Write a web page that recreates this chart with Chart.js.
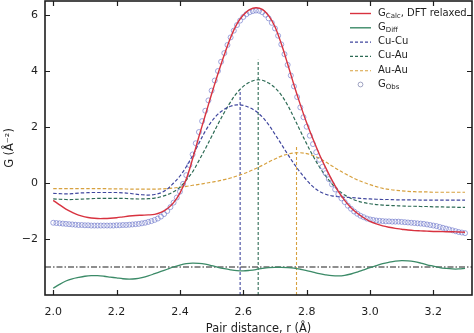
<!DOCTYPE html>
<html>
<head>
<meta charset="utf-8">
<script src="https://cdn.jsdelivr.net/npm/chart.js@4.4.1/dist/chart.umd.min.js"></script>
<style>
  html, body { margin: 0; padding: 0; background: #ffffff; }
  #wrap { width: 474px; height: 333px; }
</style>
</head>
<body>
<div id="wrap"><canvas id="pdf" width="474" height="333"></canvas></div>
<script>
// Pair distances of the fitted / partial curves (Å)
const rFit = [
  2.00, 2.02, 2.04, 2.06, 2.08, 2.10, 2.12, 2.14, 2.16, 2.18,
  2.20, 2.22, 2.24, 2.26, 2.28, 2.30, 2.32, 2.34, 2.36, 2.38,
  2.40, 2.42, 2.44, 2.46, 2.48, 2.50, 2.52, 2.54, 2.56, 2.58,
  2.60, 2.62, 2.64, 2.66, 2.68, 2.70, 2.72, 2.74, 2.76, 2.78,
  2.80, 2.82, 2.84, 2.86, 2.88, 2.90, 2.92, 2.94, 2.96, 2.98,
  3.00, 3.02, 3.04, 3.06, 3.08, 3.10, 3.12, 3.14, 3.16, 3.18,
  3.20, 3.22, 3.24, 3.26, 3.28, 3.30
];

// Calculated PDF from the DFT-relaxed model
const gCalc = [
  -0.62, -0.78, -0.93, -1.05, -1.15, -1.21, -1.25, -1.27, -1.27, -1.26,
  -1.24, -1.21, -1.18, -1.16, -1.15, -1.14, -1.12, -1.05, -0.92, -0.70,
  -0.36, 0.14, 0.86, 1.66, 2.42, 3.18, 3.90, 4.58, 5.20, 5.68,
  6.00, 6.19, 6.26, 6.20, 5.98, 5.58, 4.97, 4.25, 3.50, 2.80,
  2.15, 1.57, 1.03, 0.55, 0.10, -0.30, -0.62, -0.88, -1.08, -1.24,
  -1.37, -1.46, -1.53, -1.58, -1.62, -1.65, -1.68, -1.70, -1.71, -1.72,
  -1.73, -1.73, -1.74, -1.74, -1.75, -1.76
];

// Difference curve (already shifted down by diffOffset)
const gDiff = [
  -3.76, -3.62, -3.50, -3.42, -3.37, -3.33, -3.31, -3.31, -3.33, -3.36,
  -3.39, -3.42, -3.43, -3.42, -3.38, -3.32, -3.24, -3.16, -3.08, -3.00,
  -2.93, -2.88, -2.86, -2.87, -2.90, -2.95, -3.01, -3.06, -3.10, -3.13,
  -3.14, -3.12, -3.09, -3.05, -3.02, -3.01, -3.01, -3.02, -3.04, -3.08,
  -3.13, -3.18, -3.24, -3.28, -3.31, -3.32, -3.30, -3.25, -3.18, -3.10,
  -3.02, -2.95, -2.88, -2.83, -2.79, -2.77, -2.78, -2.81, -2.86, -2.92,
  -2.97, -3.02, -3.05, -3.07, -3.07, -3.05
];

// Partial pair contributions
const cuCu = [
  -0.37, -0.38, -0.39, -0.38, -0.36, -0.35, -0.34, -0.34, -0.34, -0.34,
  -0.34, -0.35, -0.37, -0.40, -0.42, -0.43, -0.41, -0.35, -0.22, 0.00,
  0.25, 0.58, 0.98, 1.42, 1.85, 2.20, 2.46, 2.63, 2.74, 2.79,
  2.77, 2.69, 2.56, 2.36, 2.08, 1.74, 1.39, 1.03, 0.69, 0.38,
  0.10, -0.13, -0.30, -0.40, -0.46, -0.49, -0.51, -0.52, -0.54, -0.56,
  -0.57, -0.58, -0.59, -0.59, -0.60, -0.60, -0.60, -0.60, -0.61, -0.61,
  -0.61, -0.61, -0.61, -0.61, -0.61, -0.61
];
const cuAu = [
  -0.57, -0.58, -0.59, -0.59, -0.58, -0.57, -0.56, -0.55, -0.55, -0.55,
  -0.55, -0.55, -0.56, -0.57, -0.57, -0.56, -0.54, -0.49, -0.42, -0.31,
  -0.15, 0.10, 0.40, 0.80, 1.22, 1.66, 2.10, 2.52, 2.90, 3.22,
  3.45, 3.60, 3.68, 3.67, 3.57, 3.40, 3.14, 2.78, 2.33, 1.86,
  1.40, 0.97, 0.58, 0.25, -0.03, -0.26, -0.43, -0.55, -0.64, -0.70,
  -0.74, -0.77, -0.79, -0.80, -0.81, -0.82, -0.83, -0.83, -0.84, -0.84,
  -0.85, -0.85, -0.86, -0.86, -0.87, -0.87
];
const auAu = [
  -0.20, -0.20, -0.20, -0.20, -0.20, -0.20, -0.20, -0.20, -0.20, -0.21,
  -0.21, -0.21, -0.22, -0.22, -0.22, -0.22, -0.22, -0.21, -0.20, -0.18,
  -0.15, -0.12, -0.08, -0.05, -0.01, 0.03, 0.07, 0.12, 0.18, 0.25,
  0.33, 0.42, 0.52, 0.63, 0.75, 0.86, 0.96, 1.03, 1.07, 1.08,
  1.05, 0.98, 0.88, 0.75, 0.61, 0.47, 0.34, 0.22, 0.11, 0.02,
  -0.06, -0.13, -0.19, -0.23, -0.26, -0.28, -0.30, -0.31, -0.32, -0.32,
  -0.33, -0.33, -0.33, -0.33, -0.33, -0.33
];

// Measured PDF
const rObs = [
  2.00, 2.01, 2.02, 2.03, 2.04, 2.05, 2.06, 2.07, 2.08, 2.09,
  2.10, 2.11, 2.12, 2.13, 2.14, 2.15, 2.16, 2.17, 2.18, 2.19,
  2.20, 2.21, 2.22, 2.23, 2.24, 2.25, 2.26, 2.27, 2.28, 2.29,
  2.30, 2.31, 2.32, 2.33, 2.34, 2.35, 2.36, 2.37, 2.38, 2.39,
  2.40, 2.41, 2.42, 2.43, 2.44, 2.45, 2.46, 2.47, 2.48, 2.49,
  2.50, 2.51, 2.52, 2.53, 2.54, 2.55, 2.56, 2.57, 2.58, 2.59,
  2.60, 2.61, 2.62, 2.63, 2.64, 2.65, 2.66, 2.67, 2.68, 2.69,
  2.70, 2.71, 2.72, 2.73, 2.74, 2.75, 2.76, 2.77, 2.78, 2.79,
  2.80, 2.81, 2.82, 2.83, 2.84, 2.85, 2.86, 2.87, 2.88, 2.89,
  2.90, 2.91, 2.92, 2.93, 2.94, 2.95, 2.96, 2.97, 2.98, 2.99,
  3.00, 3.01, 3.02, 3.03, 3.04, 3.05, 3.06, 3.07, 3.08, 3.09,
  3.10, 3.11, 3.12, 3.13, 3.14, 3.15, 3.16, 3.17, 3.18, 3.19,
  3.20, 3.21, 3.22, 3.23, 3.24, 3.25, 3.26, 3.27, 3.28, 3.29,
  3.30
];
const gObs = [
  -1.42, -1.43, -1.44, -1.45, -1.46, -1.47, -1.48, -1.49, -1.50, -1.50,
  -1.51, -1.51, -1.52, -1.52, -1.52, -1.52, -1.52, -1.52, -1.52, -1.52,
  -1.51, -1.51, -1.50, -1.50, -1.49, -1.48, -1.47, -1.46, -1.44, -1.42,
  -1.39, -1.36, -1.32, -1.27, -1.20, -1.11, -1.00, -0.86, -0.70, -0.52,
  -0.31, -0.03, 0.28, 0.64, 1.02, 1.42, 1.82, 2.21, 2.58, 2.95,
  3.30, 3.66, 4.00, 4.33, 4.64, 4.93, 5.20, 5.44, 5.64, 5.80,
  5.93, 6.03, 6.10, 6.14, 6.16, 6.15, 6.10, 6.01, 5.88, 5.72,
  5.52, 5.26, 4.95, 4.60, 4.22, 3.84, 3.45, 3.07, 2.70, 2.35,
  2.01, 1.69, 1.39, 1.10, 0.83, 0.58, 0.35, 0.14, -0.05, -0.23,
  -0.40, -0.55, -0.68, -0.81, -0.92, -1.02, -1.10, -1.17, -1.22, -1.27,
  -1.30, -1.32, -1.34, -1.35, -1.36, -1.37, -1.37, -1.38, -1.38, -1.38,
  -1.39, -1.40, -1.41, -1.42, -1.43, -1.44, -1.45, -1.46, -1.48, -1.50,
  -1.52, -1.54, -1.57, -1.60, -1.63, -1.66, -1.69, -1.72, -1.75, -1.77,
  -1.79
];

// Mean bond distances (Cu-Cu, Cu-Au, Au-Au) and heights of their drop lines
const bondR = [2.59, 2.647, 2.768];
const bondTop = [3.3, 4.4, 1.3];

const diffOffset = -3;
const xRange = [1.974, 3.322];
const yRange = [-4.0, 6.5];
const xTicks = [2.0, 2.2, 2.4, 2.6, 2.8, 3.0, 3.2];
const yTicks = [-2, 0, 2, 4, 6];

const COL = {
  calc: '#d8323f',
  diff: '#3b8a67',
  cuCu: '#40479e',
  cuAu: '#2d6b55',
  auAu: '#d7a13f',
  obs: 'rgba(112,122,204,0.78)',
  ink: '#1e1e1e'
};
const FONT = 'DejaVu Sans';

const pts = (xs, ys) => xs.map((x, i) => ({ x: x, y: ys[i] }));

function lineSet(label, data, color, dash, width) {
  return {
    label: label, data: data, showLine: true, borderColor: color,
    backgroundColor: color, borderWidth: width || 1.3, borderDash: dash || [],
    pointRadius: 0, tension: 0.35, fill: false
  };
}

const dropColors = [COL.cuCu, COL.cuAu, COL.auAu];
const dropSets = bondR.map((r, i) => Object.assign(
  lineSet('drop' + i, [{ x: r, y: yRange[0] }, { x: r, y: bondTop[i] }], dropColors[i], [3, 2], 1.1),
  { tension: 0 }
));

const datasets = [
  lineSet('GCalc', pts(rFit, gCalc), COL.calc, [], 1.4),
  {
    label: 'GObs', data: pts(rObs, gObs), showLine: false,
    pointStyle: 'circle', pointRadius: 2.5, pointBorderWidth: 0.85,
    pointBorderColor: COL.obs, pointBackgroundColor: 'rgba(255,255,255,0)'
  },
  lineSet('GDiff', pts(rFit, gDiff), COL.diff, [], 1.3),
  Object.assign(lineSet('zero', [{ x: xRange[0], y: diffOffset }, { x: xRange[1], y: diffOffset }], COL.ink, [6, 2, 1.5, 2], 1.1), { tension: 0 }),
  lineSet('Cu-Cu', pts(rFit, cuCu), COL.cuCu, [3.5, 2], 1.2),
  lineSet('Cu-Au', pts(rFit, cuAu), COL.cuAu, [3.5, 2], 1.2),
  lineSet('Au-Au', pts(rFit, auAu), COL.auAu, [3.5, 2], 1.2)
].concat(dropSets);

// Box around the axes with inward tick marks on all four sides
const framePlugin = {
  id: 'frame',
  afterDatasetsDraw(chart) {
    const { ctx, chartArea: a, scales } = chart;
    const len = 5;
    ctx.save();
    ctx.strokeStyle = COL.ink;
    ctx.lineWidth = 1.2;
    xTicks.forEach(v => {
      const px = Math.round(scales.x.getPixelForValue(v)) + 0.5;
      ctx.beginPath();
      ctx.moveTo(px, a.bottom); ctx.lineTo(px, a.bottom - len);
      ctx.moveTo(px, a.top); ctx.lineTo(px, a.top + len);
      ctx.stroke();
    });
    yTicks.forEach(v => {
      const py = Math.round(scales.y.getPixelForValue(v)) + 0.5;
      ctx.beginPath();
      ctx.moveTo(a.left, py); ctx.lineTo(a.left + len, py);
      ctx.moveTo(a.right, py); ctx.lineTo(a.right - len, py);
      ctx.stroke();
    });
    ctx.lineWidth = 1.6;
    ctx.strokeRect(a.left, a.top, a.right - a.left, a.bottom - a.top);
    ctx.restore();
  }
};

// Legend with subscripted labels
const legendItems = [
  { main: 'G', sub: 'Calc', rest: ', DFT relaxed', color: COL.calc, kind: 'solid' },
  { main: 'G', sub: 'Diff', rest: '', color: COL.diff, kind: 'solid' },
  { main: 'Cu-Cu', sub: '', rest: '', color: COL.cuCu, kind: 'dash' },
  { main: 'Cu-Au', sub: '', rest: '', color: COL.cuAu, kind: 'dash' },
  { main: 'Au-Au', sub: '', rest: '', color: COL.auAu, kind: 'dash' },
  { main: 'G', sub: 'Obs', rest: '', color: COL.obs, kind: 'circle' }
];
const legendPlugin = {
  id: 'pdfLegend',
  afterDraw(chart) {
    const { ctx, chartArea: a } = chart;
    const x0 = a.right - 122;
    const y0 = a.top + 12;
    const dy = 14.3;
    ctx.save();
    legendItems.forEach((it, i) => {
      const y = y0 + i * dy;
      if (it.kind === 'circle') {
        ctx.beginPath();
        ctx.arc(x0 + 10.5, y, 2.4, 0, Math.PI * 2);
        ctx.lineWidth = 0.9;
        ctx.strokeStyle = 'rgba(130,135,175,0.85)';
        ctx.stroke();
      } else {
        ctx.beginPath();
        ctx.setLineDash(it.kind === 'dash' ? [3, 2] : []);
        ctx.lineWidth = it.kind === 'dash' ? 1.1 : 1.4;
        ctx.strokeStyle = it.color;
        ctx.moveTo(x0, y + 0.5); ctx.lineTo(x0 + 21, y + 0.5);
        ctx.stroke();
        ctx.setLineDash([]);
      }
      let tx = x0 + 28;
      ctx.fillStyle = COL.ink;
      ctx.textBaseline = 'middle';
      ctx.textAlign = 'left';
      ctx.font = '10px "' + FONT + '"';
      ctx.fillText(it.main, tx, y);
      tx += ctx.measureText(it.main).width;
      if (it.sub) {
        ctx.font = '7px "' + FONT + '"';
        ctx.fillText(it.sub, tx, y + 3);
        tx += ctx.measureText(it.sub).width;
      }
      if (it.rest) {
        ctx.font = '10px "' + FONT + '"';
        ctx.fillText(it.rest, tx, y);
      }
    });
    ctx.restore();
  }
};

new Chart(document.getElementById('pdf'), {
  type: 'scatter',
  data: { datasets: datasets },
  options: {
    responsive: false,
    animation: false,
    layout: { autoPadding: false, padding: { top: 1, right: 2, left: 0, bottom: 0 } },
    plugins: { legend: { display: false }, tooltip: { enabled: false } },
    scales: {
      x: {
        type: 'linear', min: xRange[0], max: xRange[1],
        grid: { display: false, drawTicks: false },
        border: { display: false },
        afterBuildTicks: s => { s.ticks = xTicks.map(v => ({ value: v })); },
        afterFit: s => { s.height = 38; s.paddingLeft = 0; s.paddingRight = 0; },
        ticks: {
          padding: 11, color: COL.ink, maxRotation: 0, autoSkip: false,
          font: { family: FONT, size: 11 },
          callback: v => Number(v).toFixed(1)
        },
        title: {
          display: true, text: 'Pair distance, r (Å)', color: COL.ink,
          font: { family: FONT, size: 11.4 }, padding: { top: 0, bottom: -3 }
        }
      },
      y: {
        type: 'linear', min: yRange[0], max: yRange[1],
        grid: { display: false, drawTicks: false },
        border: { display: false },
        afterBuildTicks: s => { s.ticks = yTicks.map(v => ({ value: v })); },
        afterFit: s => { s.width = 45; s.paddingTop = 0; s.paddingBottom = 0; },
        ticks: {
          padding: 7, color: COL.ink, autoSkip: false,
          font: { family: FONT, size: 11 },
          callback: v => (v < 0 ? '\u2212' + Math.abs(v) : String(v))
        },
        title: {
          display: true, text: 'G (Å\u207B\u00B2)', color: COL.ink,
          font: { family: FONT, size: 11.4 }, padding: { top: 3, bottom: 0 }
        }
      }
    }
  },
  plugins: [framePlugin, legendPlugin]
});
</script>
</body>
</html>
